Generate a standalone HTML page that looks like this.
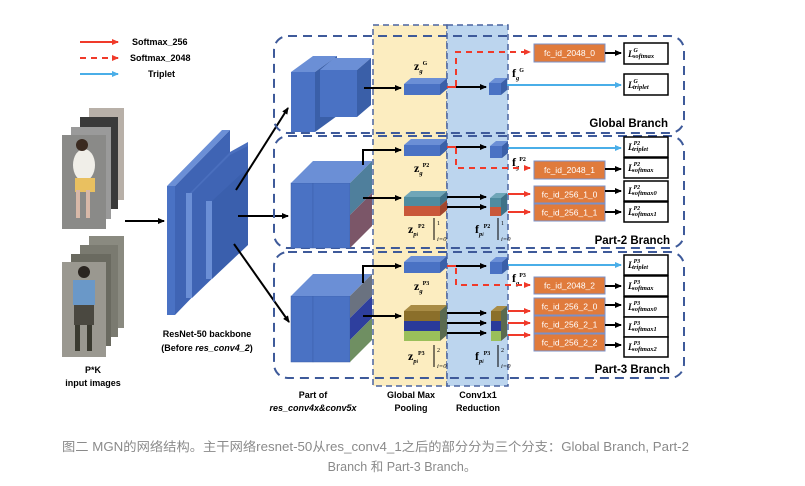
<!DOCTYPE html>
<html><head><meta charset="utf-8"><style>
html,body{margin:0;padding:0;background:#fff;}
svg{display:block;}
text{font-family:"Liberation Sans",sans-serif;}
.b{font-weight:bold;}
.fc{font-size:8.5px;fill:#fff;text-anchor:middle;}
.L{font-family:"Liberation Serif",serif;font-style:italic;font-weight:bold;font-size:9px;}
.sup{font-family:"Liberation Serif",serif;font-size:6px;}
.sub{font-family:"Liberation Serif",serif;font-style:italic;font-size:6.5px;}
.z{font-family:"Liberation Serif",serif;font-weight:bold;font-size:12px;}
</style></head><body>
<svg width="805" height="486" viewBox="0 0 805 486" xmlns="http://www.w3.org/2000/svg">
<defs>
<marker id="ak" markerWidth="8" markerHeight="8" refX="6" refY="3" orient="auto" markerUnits="userSpaceOnUse"><path d="M0,0 L7,3 L0,6z" fill="#000"/></marker>
<marker id="ar" markerWidth="8" markerHeight="8" refX="6" refY="3" orient="auto" markerUnits="userSpaceOnUse"><path d="M0,0 L7,3 L0,6z" fill="#f03a2a"/></marker>
<marker id="ab" markerWidth="8" markerHeight="8" refX="6" refY="3" orient="auto" markerUnits="userSpaceOnUse"><path d="M0,0 L7,3 L0,6z" fill="#4aaee8"/></marker>
</defs>

<!-- legend -->
<line x1="80" y1="42" x2="118" y2="42" stroke="#f03a2a" stroke-width="2" marker-end="url(#ar)"/>
<line x1="80" y1="58" x2="118" y2="58" stroke="#f03a2a" stroke-width="2" stroke-dasharray="6,5" marker-end="url(#ar)"/>
<line x1="80" y1="74" x2="118" y2="74" stroke="#4aaee8" stroke-width="2" marker-end="url(#ab)"/>
<text x="132" y="45" font-size="9" class="b">Softmax_256</text>
<text x="130" y="61" font-size="9" class="b">Softmax_2048</text>
<text x="148" y="77" font-size="9" class="b">Triplet</text>

<!-- images -->
<g>
<rect x="89" y="108" width="35" height="92" fill="#b8b0a8"/>
<rect x="80" y="117" width="38" height="92" fill="#3a3a3a"/>
<rect x="71" y="127" width="40" height="92" fill="#9a9a9a"/>
<rect x="62" y="135" width="44" height="94" fill="#8a8a88"/>
<ellipse cx="84" cy="165" rx="11" ry="16" fill="#f0eee8"/>
<circle cx="82" cy="145" r="6" fill="#3a2a20"/>
<rect x="75" y="178" width="20" height="14" fill="#e9c060"/>
<rect x="76" y="190" width="4" height="28" fill="#d8b8a8"/><rect x="86" y="190" width="4" height="28" fill="#d8b8a8"/>
<rect x="89" y="236" width="35" height="92" fill="#8a8a80"/>
<rect x="80" y="245" width="38" height="92" fill="#7a7a70"/>
<rect x="71" y="254" width="40" height="92" fill="#6a6a60"/>
<rect x="62" y="262" width="44" height="95" fill="#9a9890"/>
<circle cx="84" cy="272" r="6" fill="#2a2520"/>
<rect x="73" y="280" width="22" height="25" fill="#6a98c8"/>
<rect x="74" y="305" width="20" height="20" fill="#4a4840"/>
<rect x="75" y="325" width="5" height="26" fill="#3a3a30"/><rect x="87" y="325" width="5" height="26" fill="#3a3a30"/>
</g>
<text x="93" y="373" font-size="9" class="b" text-anchor="middle">P*K</text>
<text x="93" y="386" font-size="9" class="b" text-anchor="middle">input images</text>
<line x1="125" y1="221" x2="164" y2="221" stroke="#000" stroke-width="2" marker-end="url(#ak)"/>

<!-- backbone -->
<polygon points="167,186 175,186 230,130 222,130" fill="#6b8fd6"/>
<rect x="167" y="186" width="8" height="129" fill="#4a72c4"/>
<polygon points="175,186 230,130 230,258 175,315" fill="#3f64b4"/>
<polygon points="187,196 230,152 248,142 248,240 205,283 187,290" fill="#4a6fbe"/>
<rect x="186" y="193" width="6" height="105" fill="#6b8fd6"/>
<polygon points="192,193 230,155 248,146 248,244 192,298" fill="#3f64b4"/>
<rect x="206" y="201" width="6" height="78" fill="#6b8fd6"/>
<polygon points="212,201 240,175 248,170 248,245 212,279" fill="#3a5fad"/>
<text x="207" y="337" font-size="9" class="b" text-anchor="middle">ResNet-50 backbone</text>
<text x="207" y="351" font-size="9" class="b" text-anchor="middle">(Before <tspan font-style="italic">res_conv4_2</tspan>)</text>
<line x1="236" y1="190" x2="288" y2="108" stroke="#000" stroke-width="2" marker-end="url(#ak)"/>
<line x1="238" y1="216" x2="288" y2="216" stroke="#000" stroke-width="2" marker-end="url(#ak)"/>
<line x1="234" y1="244" x2="289" y2="322" stroke="#000" stroke-width="2" marker-end="url(#ak)"/>

<!-- columns -->
<rect x="373" y="25" width="74" height="361" fill="#fcedc0" stroke="#4a64a0" stroke-width="1.5" stroke-dasharray="6,4"/>
<rect x="447" y="25" width="61" height="361" fill="#bcd5ee" stroke="#4a64a0" stroke-width="1.5" stroke-dasharray="6,4"/>

<!-- branch boxes -->
<rect x="274" y="36" width="410" height="97" rx="14" fill="none" stroke="#3e5a9a" stroke-width="2" stroke-dasharray="9,6"/>
<rect x="274" y="136" width="410" height="112" rx="14" fill="none" stroke="#3e5a9a" stroke-width="2" stroke-dasharray="9,6"/>
<rect x="274" y="252" width="410" height="126" rx="14" fill="none" stroke="#3e5a9a" stroke-width="2" stroke-dasharray="9,6"/>

<!-- Global cubes -->
<rect x="291" y="72" width="24" height="60" fill="#4a72c4"/>
<polygon points="291,72 313,56 337,56 315,72" fill="#6b8fd6"/>
<polygon points="315,72 337,56 337,116 315,132" fill="#3a5fa8"/>
<rect x="320" y="70" width="37" height="47" fill="#4a72c4"/>
<polygon points="320,70 334,58 371,58 357,70" fill="#6b8fd6"/>
<polygon points="357,70 371,58 371,105 357,117" fill="#3a5fa8"/>
<line x1="364" y1="88" x2="401" y2="88" stroke="#000" stroke-width="2" marker-end="url(#ak)"/>
<rect x="404" y="84" width="36" height="11" fill="#4a72c4"/>
<polygon points="404,84 411,78 447,78 440,84" fill="#6b8fd6"/>
<polygon points="440,84 447,78 447,89 440,95" fill="#3a5fa8"/>
<text x="414" y="70" class="z">z<tspan class="sub" dy="3">g</tspan><tspan class="sup" dy="-8">G</tspan></text>
<line x1="447" y1="87" x2="456" y2="87" stroke="#f03a2a" stroke-width="2"/>
<line x1="456" y1="87" x2="486" y2="87" stroke="#000" stroke-width="2" marker-end="url(#ak)"/>
<rect x="489" y="83" width="12" height="12" fill="#4a72c4"/>
<polygon points="489,83 495,78 507,78 501,83" fill="#6b8fd6"/>
<polygon points="501,83 507,78 507,90 501,95" fill="#3a5fa8"/>
<text x="512" y="77" class="z">f<tspan class="sub" dy="3">g</tspan><tspan class="sup" dy="-8">G</tspan></text>
<line x1="507" y1="85" x2="621" y2="85" stroke="#4aaee8" stroke-width="2" marker-end="url(#ab)"/>
<polyline points="456,86 456,52 530,52" fill="none" stroke="#f03a2a" stroke-width="2" stroke-dasharray="6,5" marker-end="url(#ar)"/>
<rect x="534" y="44" width="71" height="18" fill="#e07b3c" stroke="#7a90c8"/>
<text x="569.5" y="56" class="fc">fc_id_2048_0</text>
<line x1="605" y1="53" x2="621" y2="53" stroke="#000" stroke-width="2" marker-end="url(#ak)"/>
<rect x="624" y="43" width="44" height="21" fill="#fff" stroke="#000" stroke-width="1.5"/>
<text x="628" y="57" class="L">L<tspan class="sup" dy="-5">G</tspan><tspan class="sub" dy="6" dx="-5">softmax</tspan></text>
<rect x="624" y="74" width="44" height="21" fill="#fff" stroke="#000" stroke-width="1.5"/>
<text x="628" y="88" class="L">L<tspan class="sup" dy="-5">G</tspan><tspan class="sub" dy="6" dx="-5">triplet</tspan></text>
<text x="668" y="127" font-size="11.5" class="b" text-anchor="end">Global Branch</text>

<!-- Part-2 -->
<rect x="291" y="183" width="22" height="65" fill="#4a72c4" stroke="#3a5fa8" stroke-width="0.5"/>
<rect x="313" y="183" width="37" height="65" fill="#4a72c4" stroke="#3a5fa8" stroke-width="0.5"/>
<polygon points="291,183 313,161 372,161 350,183" fill="#6b8fd6"/>
<polygon points="350,183 372,161 372,193 350,215" fill="#4f7f9c"/>
<polygon points="350,215 372,193 372,226 350,248" fill="#7b5668"/>
<polyline points="363,165 363,150 401,150" fill="none" stroke="#000" stroke-width="2" marker-end="url(#ak)"/>
<rect x="404" y="145" width="36" height="11" fill="#4a72c4"/>
<polygon points="404,145 411,139 447,139 440,145" fill="#6b8fd6"/>
<polygon points="440,145 447,139 447,150 440,156" fill="#3a5fa8"/>
<text x="414" y="172" class="z">z<tspan class="sub" dy="3">g</tspan><tspan class="sup" dy="-8">P2</tspan></text>
<line x1="447" y1="147" x2="456" y2="147" stroke="#f03a2a" stroke-width="2"/>
<line x1="456" y1="147" x2="486" y2="147" stroke="#000" stroke-width="2" marker-end="url(#ak)"/>
<rect x="490" y="146" width="12" height="12" fill="#4a72c4"/>
<polygon points="490,146 496,141 508,141 502,146" fill="#6b8fd6"/>
<polygon points="502,146 508,141 508,153 502,158" fill="#3a5fa8"/>
<text x="512" y="166" class="z">f<tspan class="sub" dy="3">g</tspan><tspan class="sup" dy="-8">P2</tspan></text>
<line x1="508" y1="148" x2="621" y2="148" stroke="#4aaee8" stroke-width="2" marker-end="url(#ab)"/>
<polyline points="456,148 456,168 530,168" fill="none" stroke="#f03a2a" stroke-width="2" stroke-dasharray="6,5" marker-end="url(#ar)"/>
<rect x="534" y="161" width="71" height="18" fill="#e07b3c" stroke="#7a90c8"/>
<text x="569.5" y="173" class="fc">fc_id_2048_1</text>
<line x1="605" y1="169" x2="621" y2="169" stroke="#000" stroke-width="2" marker-end="url(#ak)"/>
<line x1="363" y1="198" x2="401" y2="198" stroke="#000" stroke-width="2" marker-end="url(#ak)"/>
<rect x="404" y="197" width="36" height="9" fill="#4f8ca0"/>
<rect x="404" y="206" width="36" height="10" fill="#c9583a"/>
<polygon points="404,197 411,191 447,191 440,197" fill="#6fa6b8"/>
<polygon points="440,197 447,191 447,200 440,206" fill="#3f7288"/>
<polygon points="440,206 447,200 447,210 440,216" fill="#a3462c"/>
<line x1="447" y1="197" x2="486" y2="197" stroke="#000" stroke-width="2" marker-end="url(#ak)"/>
<line x1="447" y1="207" x2="486" y2="207" stroke="#000" stroke-width="2" marker-end="url(#ak)"/>
<rect x="490" y="198" width="11" height="9" fill="#4f8ca0"/>
<rect x="490" y="207" width="11" height="9" fill="#c9583a"/>
<polygon points="490,198 496,193 507,193 501,198" fill="#6fa6b8"/>
<polygon points="501,198 507,193 507,211 501,216" fill="#3f7288"/>
<line x1="508" y1="194" x2="530" y2="194" stroke="#f03a2a" stroke-width="2" marker-end="url(#ar)"/>
<line x1="508" y1="212" x2="530" y2="212" stroke="#f03a2a" stroke-width="2" marker-end="url(#ar)"/>
<rect x="534" y="186" width="71" height="17" fill="#e07b3c" stroke="#7a90c8"/>
<text x="569.5" y="197.5" class="fc">fc_id_256_1_0</text>
<rect x="534" y="204" width="71" height="17" fill="#e07b3c" stroke="#7a90c8"/>
<text x="569.5" y="215.5" class="fc">fc_id_256_1_1</text>
<line x1="605" y1="191" x2="621" y2="191" stroke="#000" stroke-width="2" marker-end="url(#ak)"/>
<line x1="605" y1="212" x2="621" y2="212" stroke="#000" stroke-width="2" marker-end="url(#ak)"/>
<text x="408" y="233" class="z">z<tspan class="sub" dy="3">p<tspan font-size="5">i</tspan></tspan><tspan class="sup" dy="-8">P2</tspan></text>
<line x1="434" y1="218" x2="434" y2="240" stroke="#000"/>
<text x="437" y="225" class="sup">1</text><text x="437" y="241" class="sub">i=0</text>
<text x="475" y="233" class="z">f<tspan class="sub" dy="3">p<tspan font-size="5">i</tspan></tspan><tspan class="sup" dy="-8">P2</tspan></text>
<line x1="498" y1="218" x2="498" y2="240" stroke="#000"/>
<text x="501" y="225" class="sup">1</text><text x="501" y="241" class="sub">i=0</text>
<g>
<rect x="624" y="137" width="44" height="20" fill="#fff" stroke="#000" stroke-width="1.5"/>
<text x="628" y="150" class="L">L<tspan class="sup" dy="-5">P2</tspan><tspan class="sub" dy="6" dx="-8">triplet</tspan></text>
<rect x="624" y="158" width="44" height="20" fill="#fff" stroke="#000" stroke-width="1.5"/>
<text x="628" y="171" class="L">L<tspan class="sup" dy="-5">P2</tspan><tspan class="sub" dy="6" dx="-8">softmax</tspan></text>
<rect x="624" y="181" width="44" height="20" fill="#fff" stroke="#000" stroke-width="1.5"/>
<text x="628" y="194" class="L">L<tspan class="sup" dy="-5">P2</tspan><tspan class="sub" dy="6" dx="-8">softmax0</tspan></text>
<rect x="624" y="202" width="44" height="20" fill="#fff" stroke="#000" stroke-width="1.5"/>
<text x="628" y="215" class="L">L<tspan class="sup" dy="-5">P2</tspan><tspan class="sub" dy="6" dx="-8">softmax1</tspan></text>
</g>
<text x="670" y="244" font-size="11.5" class="b" text-anchor="end">Part-2 Branch</text>

<!-- Part-3 -->
<rect x="291" y="296" width="22" height="66" fill="#4a72c4" stroke="#3a5fa8" stroke-width="0.5"/>
<rect x="313" y="296" width="37" height="66" fill="#4a72c4" stroke="#3a5fa8" stroke-width="0.5"/>
<polygon points="291,296 313,274 372,274 350,296" fill="#6b8fd6"/>
<polygon points="350,296 372,274 372,296 350,318" fill="#6a7280"/>
<polygon points="350,318 372,296 372,318 350,340" fill="#2e3f9e"/>
<polygon points="350,340 372,318 372,340 350,362" fill="#6f8f62"/>
<polyline points="363,283 363,266 401,266" fill="none" stroke="#000" stroke-width="2" marker-end="url(#ak)"/>
<rect x="404" y="262" width="36" height="11" fill="#4a72c4"/>
<polygon points="404,262 411,256 447,256 440,262" fill="#6b8fd6"/>
<polygon points="440,262 447,256 447,267 440,273" fill="#3a5fa8"/>
<text x="414" y="290" class="z">z<tspan class="sub" dy="3">g</tspan><tspan class="sup" dy="-8">P3</tspan></text>
<line x1="447" y1="266" x2="456" y2="266" stroke="#f03a2a" stroke-width="2"/>
<line x1="456" y1="266" x2="486" y2="266" stroke="#000" stroke-width="2" marker-end="url(#ak)"/>
<rect x="490" y="262" width="12" height="12" fill="#4a72c4"/>
<polygon points="490,262 496,257 508,257 502,262" fill="#6b8fd6"/>
<polygon points="502,262 508,257 508,269 502,274" fill="#3a5fa8"/>
<text x="512" y="282" class="z">f<tspan class="sub" dy="3">g</tspan><tspan class="sup" dy="-8">P3</tspan></text>
<line x1="508" y1="265" x2="621" y2="265" stroke="#4aaee8" stroke-width="2" marker-end="url(#ab)"/>
<polyline points="456,268 456,285 530,285" fill="none" stroke="#f03a2a" stroke-width="2" stroke-dasharray="6,5" marker-end="url(#ar)"/>
<rect x="534" y="277" width="71" height="17" fill="#e07b3c" stroke="#7a90c8"/>
<text x="569.5" y="288.5" class="fc">fc_id_2048_2</text>
<line x1="605" y1="286" x2="621" y2="286" stroke="#000" stroke-width="2" marker-end="url(#ak)"/>
<line x1="363" y1="316" x2="401" y2="316" stroke="#000" stroke-width="2" marker-end="url(#ak)"/>
<rect x="404" y="311" width="36" height="10" fill="#8b6f2a"/>
<rect x="404" y="321" width="36" height="10" fill="#2a3a9a"/>
<rect x="404" y="331" width="36" height="10" fill="#9abf5a"/>
<polygon points="404,311 411,305 447,305 440,311" fill="#a98c45"/>
<polygon points="440,311 447,305 447,335 440,341" fill="#5a6a50"/>
<line x1="447" y1="313" x2="486" y2="313" stroke="#000" stroke-width="2" marker-end="url(#ak)"/>
<line x1="447" y1="323" x2="486" y2="323" stroke="#000" stroke-width="2" marker-end="url(#ak)"/>
<line x1="447" y1="333" x2="486" y2="333" stroke="#000" stroke-width="2" marker-end="url(#ak)"/>
<rect x="491" y="311" width="10" height="10" fill="#8b6f2a"/>
<rect x="491" y="321" width="10" height="10" fill="#2a3a9a"/>
<rect x="491" y="331" width="10" height="10" fill="#9abf5a"/>
<polygon points="491,311 497,306 507,306 501,311" fill="#a98c45"/>
<polygon points="501,311 507,306 507,336 501,341" fill="#5a6a50"/>
<line x1="508" y1="311" x2="530" y2="311" stroke="#f03a2a" stroke-width="2" marker-end="url(#ar)"/>
<line x1="508" y1="323" x2="530" y2="323" stroke="#f03a2a" stroke-width="2" marker-end="url(#ar)"/>
<line x1="508" y1="335" x2="530" y2="335" stroke="#f03a2a" stroke-width="2" marker-end="url(#ar)"/>
<rect x="534" y="298" width="71" height="17" fill="#e07b3c" stroke="#7a90c8"/>
<text x="569.5" y="309.5" class="fc">fc_id_256_2_0</text>
<rect x="534" y="316" width="71" height="17" fill="#e07b3c" stroke="#7a90c8"/>
<text x="569.5" y="327.5" class="fc">fc_id_256_2_1</text>
<rect x="534" y="334" width="71" height="17" fill="#e07b3c" stroke="#7a90c8"/>
<text x="569.5" y="345.5" class="fc">fc_id_256_2_2</text>
<line x1="605" y1="305" x2="621" y2="305" stroke="#000" stroke-width="2" marker-end="url(#ak)"/>
<line x1="605" y1="325" x2="621" y2="325" stroke="#000" stroke-width="2" marker-end="url(#ak)"/>
<line x1="605" y1="345" x2="621" y2="345" stroke="#000" stroke-width="2" marker-end="url(#ak)"/>
<text x="408" y="360" class="z">z<tspan class="sub" dy="3">p<tspan font-size="5">i</tspan></tspan><tspan class="sup" dy="-8">P3</tspan></text>
<line x1="434" y1="345" x2="434" y2="367" stroke="#000"/>
<text x="437" y="352" class="sup">2</text><text x="437" y="368" class="sub">i=0</text>
<text x="475" y="360" class="z">f<tspan class="sub" dy="3">p<tspan font-size="5">i</tspan></tspan><tspan class="sup" dy="-8">P3</tspan></text>
<line x1="498" y1="345" x2="498" y2="367" stroke="#000"/>
<text x="501" y="352" class="sup">2</text><text x="501" y="368" class="sub">i=0</text>
<g>
<rect x="624" y="255" width="44" height="20" fill="#fff" stroke="#000" stroke-width="1.5"/>
<text x="628" y="268" class="L">L<tspan class="sup" dy="-5">P3</tspan><tspan class="sub" dy="6" dx="-8">triplet</tspan></text>
<rect x="624" y="276" width="44" height="20" fill="#fff" stroke="#000" stroke-width="1.5"/>
<text x="628" y="289" class="L">L<tspan class="sup" dy="-5">P3</tspan><tspan class="sub" dy="6" dx="-8">softmax</tspan></text>
<rect x="624" y="297" width="44" height="20" fill="#fff" stroke="#000" stroke-width="1.5"/>
<text x="628" y="310" class="L">L<tspan class="sup" dy="-5">P3</tspan><tspan class="sub" dy="6" dx="-8">softmax0</tspan></text>
<rect x="624" y="317" width="44" height="20" fill="#fff" stroke="#000" stroke-width="1.5"/>
<text x="628" y="330" class="L">L<tspan class="sup" dy="-5">P3</tspan><tspan class="sub" dy="6" dx="-8">softmax1</tspan></text>
<rect x="624" y="337" width="44" height="20" fill="#fff" stroke="#000" stroke-width="1.5"/>
<text x="628" y="350" class="L">L<tspan class="sup" dy="-5">P3</tspan><tspan class="sub" dy="6" dx="-8">softmax2</tspan></text>
</g>
<text x="670" y="373" font-size="11.5" class="b" text-anchor="end">Part-3 Branch</text>

<!-- bottom labels -->
<text x="313" y="398" font-size="9" class="b" text-anchor="middle">Part of</text>
<text x="313" y="411" font-size="9" class="b" font-style="italic" text-anchor="middle">res_conv4x&amp;conv5x</text>
<text x="411" y="398" font-size="9" class="b" text-anchor="middle">Global Max</text>
<text x="411" y="411" font-size="9" class="b" text-anchor="middle">Pooling</text>
<text x="478" y="398" font-size="9" class="b" text-anchor="middle">Conv1x1</text>
<text x="478" y="411" font-size="9" class="b" text-anchor="middle">Reduction</text>

<!-- caption -->
<text x="62" y="451" font-size="12.5" fill="#8a8a8a" textLength="627" lengthAdjust="spacingAndGlyphs" style='font-family:"Liberation Sans","Noto Sans CJK SC",sans-serif'>图二 MGN的网络结构。主干网络resnet-50从res_conv4_1之后的部分分为三个分支：Global Branch, Part-2</text>
<text x="402" y="471" font-size="12.5" fill="#8a8a8a" text-anchor="middle" style='font-family:"Liberation Sans","Noto Sans CJK SC",sans-serif'>Branch 和 Part-3 Branch。</text>
</svg>
</body></html>
